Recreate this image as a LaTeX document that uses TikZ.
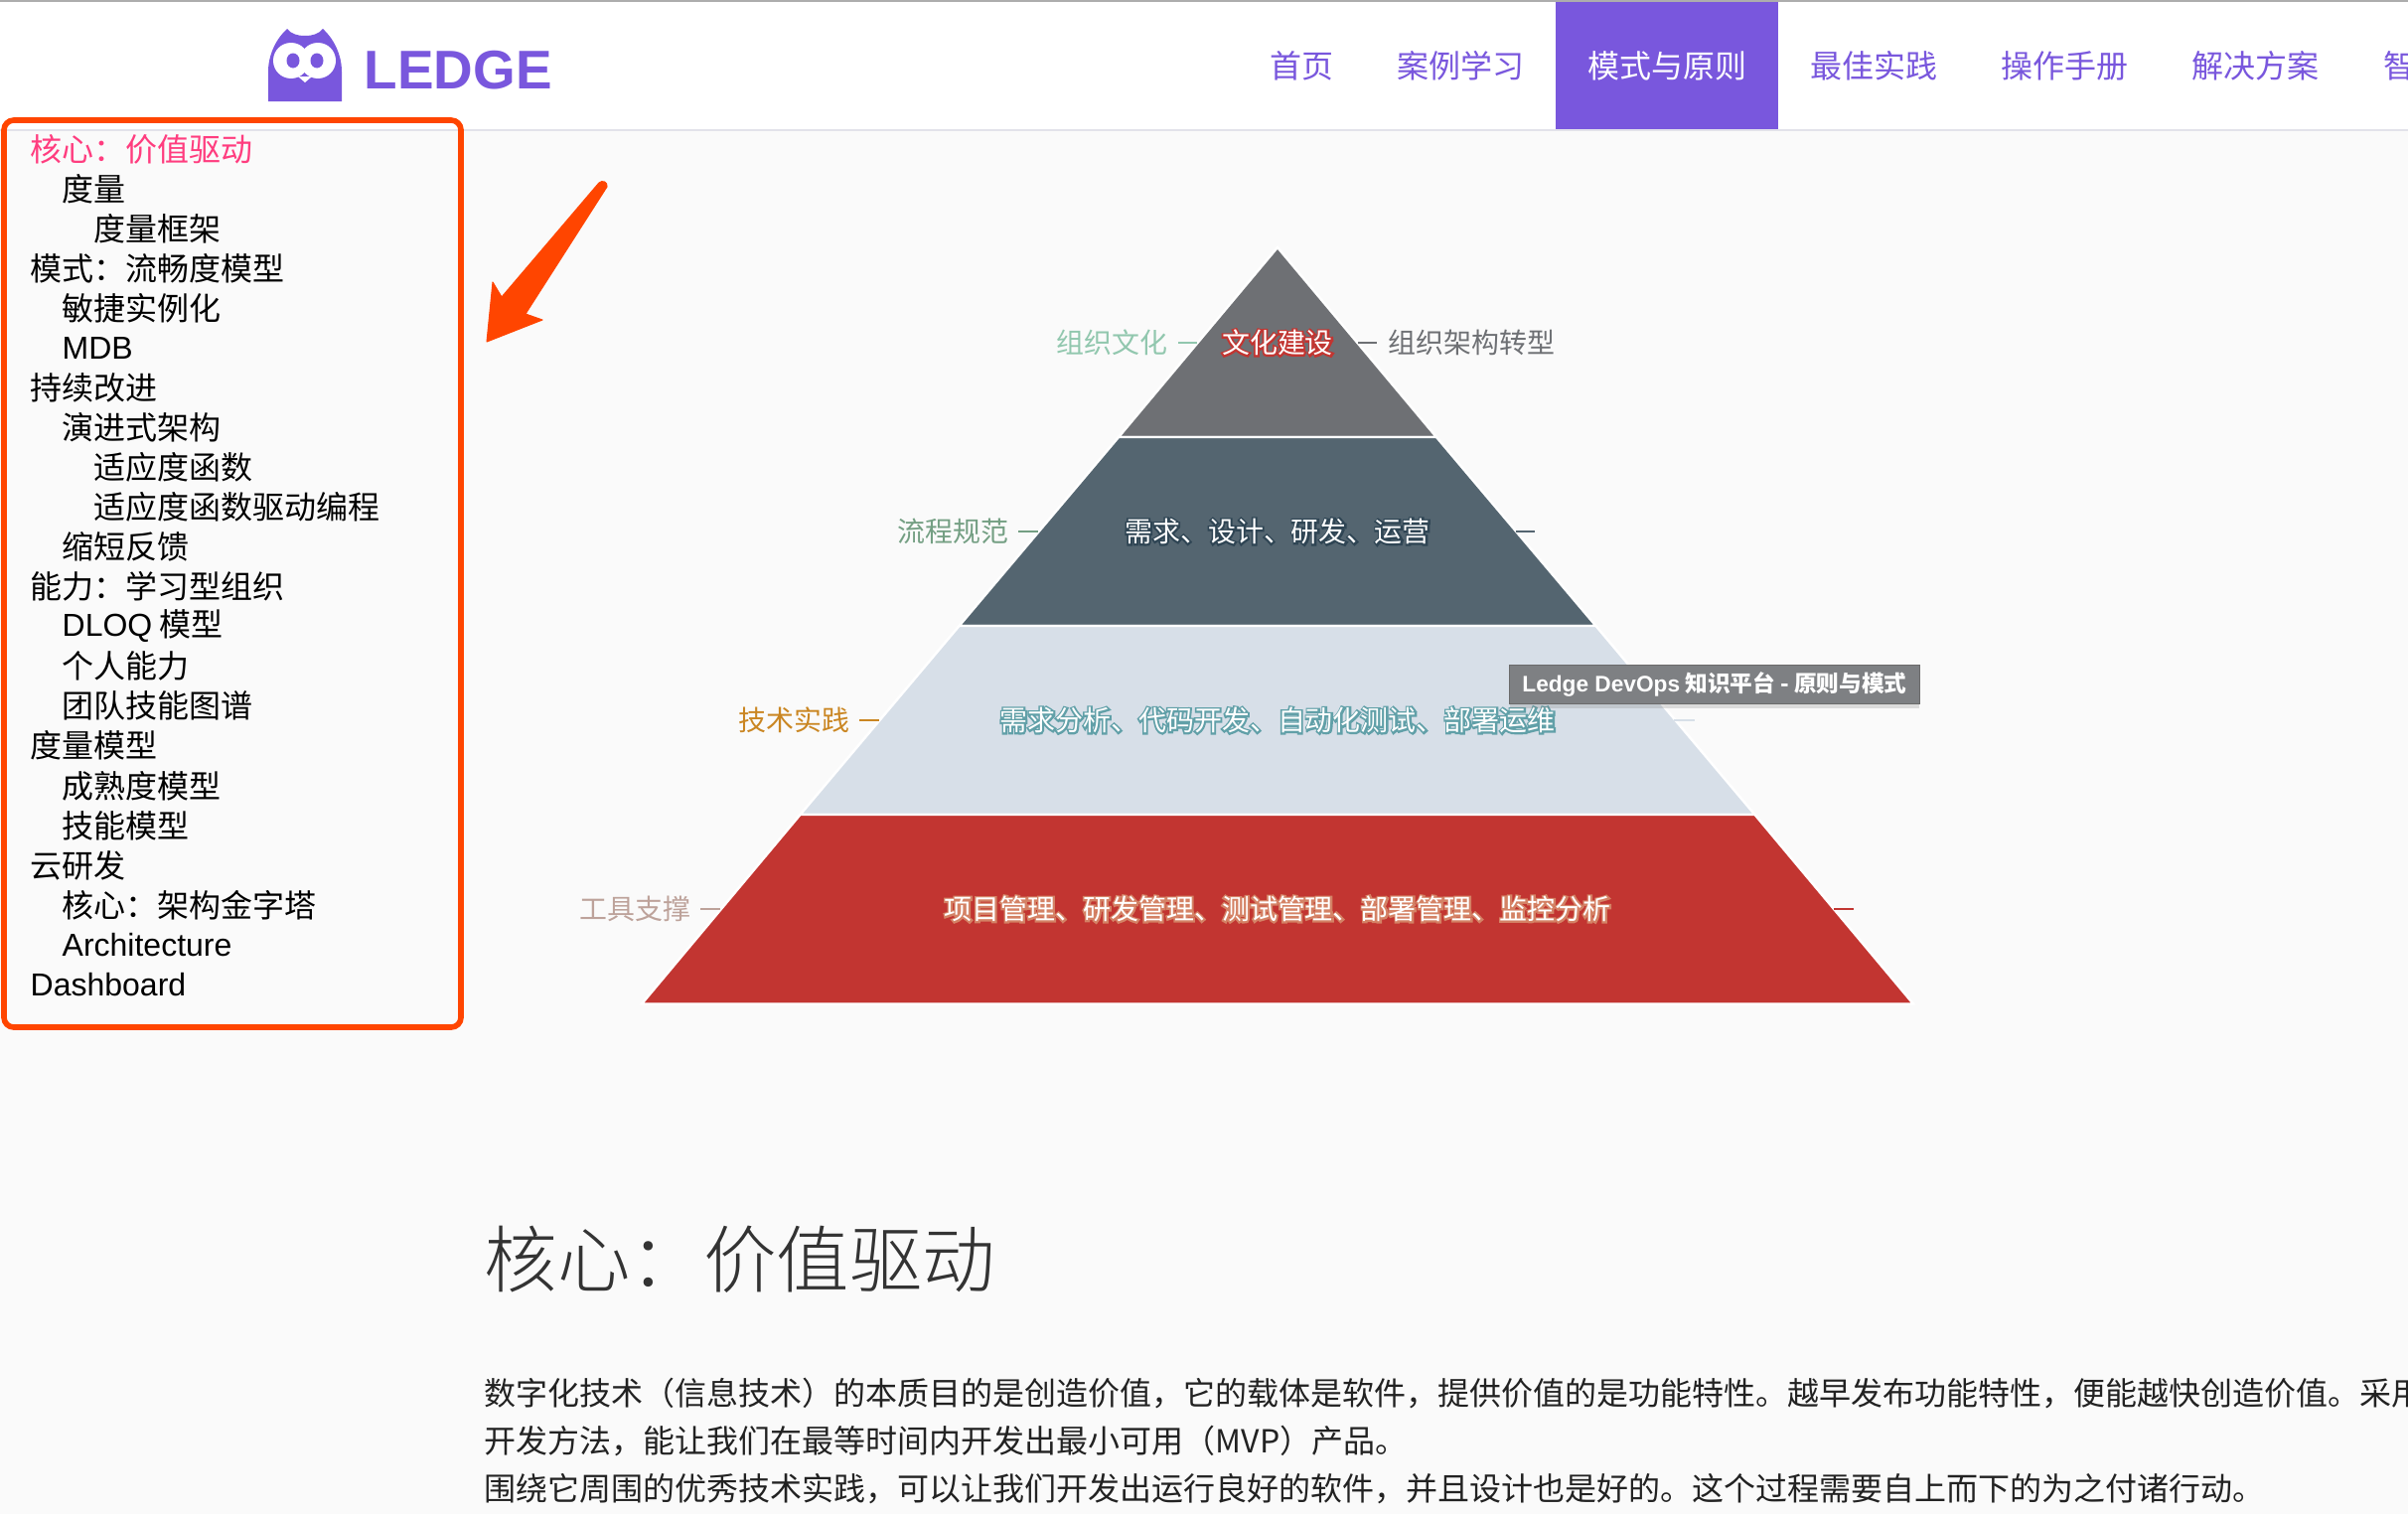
\documentclass[tikz,border=0pt]{standalone}
\usepackage{fontspec}
\usepackage{xcolor}
\usepackage{tikz}
\usetikzlibrary{shadows}
\setmainfont{Noto Sans CJK SC}
\newfontfamily\logofont{Liberation Sans}
\newfontfamily\lightcjk{Noto Sans CJK SC Light}

\definecolor{ledgepurple}{HTML}{7957DD}
\definecolor{pagebg}{HTML}{FAFAFA}
\definecolor{navline}{HTML}{E2E2EA}
\definecolor{markorange}{HTML}{FF4500}
\definecolor{tocpink}{HTML}{FF3D7F}
\definecolor{bodygray}{HTML}{222222}
\definecolor{tiergray}{HTML}{6E7074}
\definecolor{tierslate}{HTML}{546570}
\definecolor{tierpale}{HTML}{D7DFE8}
\definecolor{tierred}{HTML}{C23531}
\definecolor{tipgray}{HTML}{7E8083}
\definecolor{lblmint}{HTML}{91C7AE}
\definecolor{lblgreen}{HTML}{749F83}
\definecolor{lblochre}{HTML}{CA8622}
\definecolor{lblrose}{HTML}{BDA29A}

\newcommand{\halotext}[2]{\rlap{\special{pdf:code q 2 Tr 1 w #1 RG}#2\special{pdf:code Q}}#2}
\newcommand{\fwcolon}{\symbol{"FF1A}}
\newcommand{\fwcomma}{\symbol{"FF0C}}
\newcommand{\fwopen}{\symbol{"FF08}}
\newcommand{\fwclose}{\symbol{"FF09}}

\tikzset{
  txt/.style={inner sep=0pt, font=\fontsize{9.1pt}{11pt}\selectfont},
  navitem/.style={txt, text=ledgepurple},
  tocitem/.style={txt, anchor=west, text=black},
  tierlabel/.style={inner sep=0pt, font=\fontsize{7.95pt}{10pt}\selectfont},
  tiertext/.style={tierlabel, text=white},
  bodyline/.style={txt, anchor=west, text=bodygray},
  tier/.style={draw=white, line width=0.7pt, line join=miter},
  tick/.style={line width=0.6pt}
}

\begin{document}
\begin{tikzpicture}[x=0.01cm,y=-0.01cm]
\clip (0,0) rectangle (2424,1524);
\fill[pagebg] (0,0) rectangle (2424,1524);

\fill[white] (0,0) rectangle (2424,130);
\fill[black!32] (0,0) rectangle (2424,2);
\fill[navline] (0,129.5) rectangle (2424,132);
\fill[ledgepurple] (1566,2) rectangle (1790,130);

\fill[ledgepurple] (270,102) -- (270,72) .. controls (270,54) and (279,38) .. (289,29) .. controls (293,34) and (299,36) .. (307,36) .. controls (315,36) and (321,34) .. (325,29) .. controls (335,38) and (344,54) .. (344,72) -- (344,102) -- cycle;
\fill[white] (293,61) circle (18);
\fill[white] (320,61) circle (18);
\fill[white] (300,77) -- (314,77) -- (307,83) -- cycle;
\fill[ledgepurple] (295,61) ellipse (6.5 and 7.5);
\fill[ledgepurple] (319,61) ellipse (6.5 and 7.5);
\node[inner sep=0pt, anchor=west, text=ledgepurple, font=\logofont\bfseries\fontsize{15.6pt}{18pt}\selectfont] (logoword) at (366,71) {LEDGE};

\node[navitem] (navhome) at (1310,66) {首页};
\node[navitem] (navcases) at (1470,66) {案例学习};
\node[navitem, text=white] (navpatterns) at (1678,66) {模式与原则};
\node[navitem] (navpractice) at (1886,66) {最佳实践};
\node[navitem] (navmanual) at (2078,66) {操作手册};
\node[navitem] (navsolutions) at (2270,66) {解决方案};
\node[navitem, anchor=west] (navwisdom) at (2399,66) {智};

\draw[markorange, line width=1.6pt, rounded corners=2.8pt] (4,121) rectangle (464,1034);

\node[tocitem, text=tocpink] (toca) at (30,150) {核心\fwcolon 价值驱动};
\node[tocitem] (tocb) at (62,190) {度量};
\node[tocitem] (tocc) at (94,230) {度量框架};
\node[tocitem] (tocd) at (30,270) {模式\fwcolon 流畅度模型};
\node[tocitem] (toce) at (62,310) {敏捷实例化};
\node[tocitem] (tocf) at (62,350) {\logofont MDB};
\node[tocitem] (tocg) at (30,390) {持续改进};
\node[tocitem] (toch) at (62,430) {演进式架构};
\node[tocitem] (toci) at (94,470) {适应度函数};
\node[tocitem] (tocj) at (94,510) {适应度函数驱动编程};
\node[tocitem] (tock) at (62,550) {缩短反馈};
\node[tocitem] (tocl) at (30,590) {能力\fwcolon 学习型组织};
\node[tocitem] (tocm) at (62,630) {{\logofont DLOQ} 模型};
\node[tocitem] (tocn) at (62,670) {个人能力};
\node[tocitem] (toco) at (62,710) {团队技能图谱};
\node[tocitem] (tocp) at (30,750) {度量模型};
\node[tocitem] (tocq) at (62,791) {成熟度模型};
\node[tocitem] (tocr) at (62,831) {技能模型};
\node[tocitem] (tocs) at (30,871) {云研发};
\node[tocitem] (toct) at (62,911) {核心\fwcolon 架构金字塔};
\node[tocitem] (tocu) at (62,951) {\logofont Architecture};
\node[tocitem] (tocv) at (30,991) {\logofont Dashboard};

\fill[markorange, draw=markorange, line width=0.3pt, line join=round] (490,344) -- (496,284) -- (505,299) -- (603,184) .. controls (606,181) and (612,183) .. (611,188) -- (529,316) -- (546,322) -- cycle;

\fill[tiergray, tier] (1286,249) -- (1446,440) -- (1126,440) -- cycle;
\fill[tierslate, tier] (1126,440) -- (1446,440) -- (1606.5,630) -- (965.5,630) -- cycle;
\fill[tierpale, tier] (965.5,630) -- (1606.5,630) -- (1766.5,820) -- (805.5,820) -- cycle;
\fill[tierred, tier] (805.5,820) -- (1766.5,820) -- (1926,1010.5) -- (646,1010.5) -- cycle;

\node[tierlabel, anchor=east, text=lblmint] (lblculture) at (1176,345) {组织文化};
\node[tierlabel, anchor=east, text=lblgreen] (lblprocess) at (1016,535) {流程规范};
\node[tierlabel, anchor=east, text=lblochre] (lbltech) at (856,725) {技术实践};
\node[tierlabel, anchor=east, text=lblrose] (lbltools) at (696,915) {工具支撑};
\node[tierlabel, anchor=west, text=tiergray] (lblorg) at (1397,345) {组织架构转型};

\draw[tick, lblmint] (1186,345) -- (1205,345);
\draw[tick, lblgreen] (1025,535) -- (1045,535);
\draw[tick, lblochre] (865,725) -- (885,725);
\draw[tick, lblrose] (705,915) -- (725,915);
\draw[tick, tiergray] (1367,345) -- (1386,345);
\draw[tick, tierslate] (1526,535) -- (1545,535);
\draw[tick, tierpale] (1685,725) -- (1706,725);
\draw[tick, tierred] (1846,915) -- (1866,915);

\node[tiertext] (txtculture) at (1286,345) {\halotext{0.761 0.208 0.192}{文化建设}};
\node[tiertext] (txtprocess) at (1286,535) {\halotext{0.184 0.271 0.329}{需求、设计、研发、运营}};
\node[tiertext] (txttech) at (1286,725) {\halotext{0.38 0.627 0.659}{需求分析、代码开发、自动化测试、部署运维}};
\node[tiertext] (txttools) at (1286,915) {\halotext{0.831 0.51 0.396}{项目管理、研发管理、测试管理、部署管理、监控分析}};

\node[draw=black!58, line width=0.3pt, fill=tipgray, text=white, minimum width=412*0.2845pt, minimum height=39*0.2845pt, inner sep=0pt, font=\bfseries\fontsize{6.45pt}{8pt}\selectfont, drop shadow={shadow xshift=0pt, shadow yshift=-1.2pt, opacity=0.25}] (tooltip) at (1726,689) {{\logofont Ledge DevOps} 知识平台 - 原则与模式};

\node[anchor=west, inner sep=0pt, text=black!80, font=\lightcjk\fontsize{20.9pt}{25pt}\selectfont] (heading) at (487,1268) {核心\fwcolon 价值驱动};

\node[bodyline] (linea) at (487,1402) {数字化技术\fwopen 信息技术\fwclose 的本质目的是创造价值\fwcomma 它的载体是软件\fwcomma 提供价值的是功能特性。越早发布功能特性\fwcomma 便能越快创造价值。采用};
\node[bodyline] (lineb) at (487,1450) {开发方法\fwcomma 能让我们在最等时间内开发出最小可用\fwopen MVP\fwclose 产品。};
\node[bodyline] (linec) at (487,1499) {围绕它周围的优秀技术实践\fwcomma 可以让我们开发出运行良好的软件\fwcomma 并且设计也是好的。这个过程需要自上而下的为之付诸行动。};
\end{tikzpicture}
\end{document}
